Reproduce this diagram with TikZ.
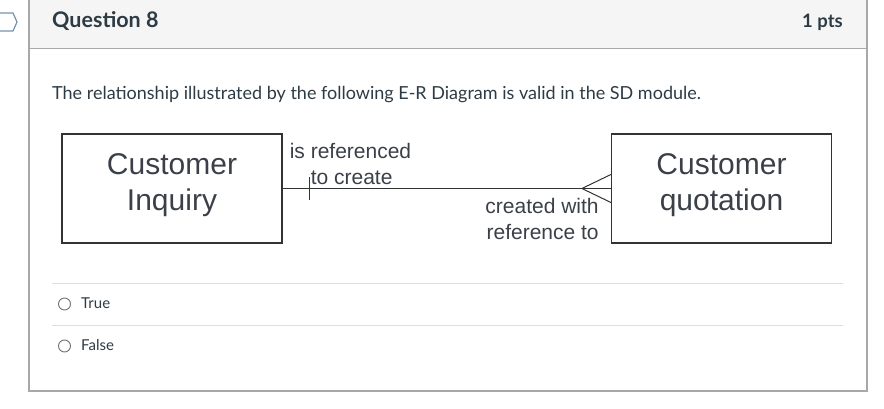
\documentclass[tikz,border=0pt]{standalone}
\usepackage{fontspec}
\setmainfont{Lato}
\newfontfamily\erfont{Liberation Sans}
\usetikzlibrary{calc}
\definecolor{canvastext}{HTML}{2D3B45}
\definecolor{cardline}{HTML}{A8A8A8}
\definecolor{headbg}{HTML}{F5F5F5}
\definecolor{rowline}{HTML}{DDDDDD}
\definecolor{erline}{HTML}{333333}
\definecolor{ertext}{HTML}{3B4048}
\definecolor{tabblue}{HTML}{7393B3}
\tikzstyle{entity}=[draw=erline, line width=1.2pt, minimum width=220pt, minimum height=109pt, align=center, text=ertext, font=\erfont\fontsize{30}{36}\selectfont, inner sep=0pt, text depth=12.5pt]
\tikzstyle{rolelabel}=[inner sep=0pt, text=ertext, font=\erfont\fontsize{21}{26}\selectfont]
\tikzstyle{relation}=[draw=erline, line width=1pt]
\tikzstyle{radio}=[draw=black!55, line width=0.9pt, circle, minimum size=12pt, inner sep=0pt]
\tikzstyle{answer}=[anchor=base west, inner sep=0pt, text=canvastext, font=\fontsize{15}{18}\selectfont]
\begin{document}
\begin{tikzpicture}[x=1pt,y=-1pt]
  \useasboundingbox (0,0) rectangle (884,409);
  % card and header
  \fill[headbg] (29,0) rectangle (867,49);
  \draw[cardline, line width=1.2pt] (29,0) -- (29,391) -- (867,391) -- (867,0);
  \draw[cardline, line width=1pt] (29,49) -- (867,49);
  \draw[tabblue, line width=1.2pt, line join=round] (0,13) -- (13,13) -- (17,22) -- (13,31) -- (0,31);
  \node[anchor=base west, inner sep=0pt, text=canvastext, font=\bfseries\fontsize{21.5}{25}\selectfont] (qtitle) at (52,28) {Question 8};
  \node[anchor=base east, inner sep=0pt, text=canvastext, font=\bfseries\fontsize{18.5}{22}\selectfont] (qpts) at (843,28) {1 pts};
  \node[anchor=base west, inner sep=0pt, text=canvastext, font=\fontsize{18}{22}\selectfont] (qtext) at (52,100) {The relationship illustrated by the following E-R Diagram is valid in the SD module.};

  % E-R diagram
  \node[entity] (inquiry) at (172,188.5) {Customer\\Inquiry};
  \node[entity] (quotation) at (721.5,188.5) {Customer\\quotation};
  \draw[relation] (inquiry) -- (quotation);
  \draw[relation] ($(inquiry.east)+(27,-11)$) -- ($(inquiry.east)+(27,12)$);
  \coordinate (crow) at ($(quotation.west)+(-29,0)$);
  \draw[relation] ($(quotation.west)+(0,-14)$) -- (crow) -- ($(quotation.west)+(0,14)$);
  \node[rolelabel, anchor=north west, align=left] (isref) at ($(inquiry.north east)+(7,9.5)$) {is referenced\\\hspace*{21pt}to create};
  \node[rolelabel, anchor=north east, align=right] (createdwith) at ($(quotation.west)+(-12,9.5)$) {created with\\reference to};

  % answers
  \draw[rowline, line width=1pt] (52,283) -- (843,283);
  \draw[rowline, line width=1pt] (52,325) -- (843,325);
  \node[radio] (rtrue) at (64.5,304) {};
  \node[answer] (atrue) at (81,308) {True};
  \node[radio] (rfalse) at (64.5,346) {};
  \node[answer] (afalse) at (81,350) {False};
\end{tikzpicture}
\end{document}
